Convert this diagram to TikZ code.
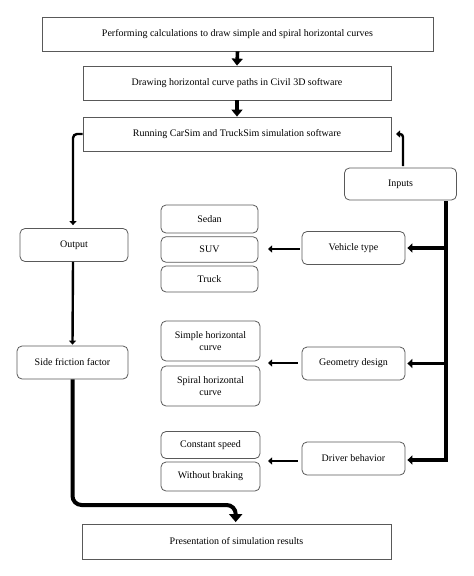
\documentclass[tikz,border=0pt]{standalone}
\usepackage{fontspec}
\setmainfont{Liberation Serif}
\usetikzlibrary{arrows.meta,calc}
\begin{document}
\begin{tikzpicture}[x=1pt,y=-1pt,
  box/.style={draw=black!65,line width=0.8pt,rectangle,inner sep=0pt,align=center,font=\fontsize{10}{11.5}\selectfont},
  rbox/.style={box,rounded corners=5pt},
  bigarrow/.style={line width=3.6pt,-{Triangle[width=11pt,length=7pt]}},
  midarrow/.style={line width=3.2pt,-{Triangle[width=9pt,length=5pt]}},
  thinarrow/.style={line width=2.4pt,-{Triangle[width=7pt,length=4pt]}}]
\useasboundingbox (0,0) rectangle (474,576);
\node[box,minimum width=391pt,minimum height=34pt] (b1) at (237.5,34) {Performing calculations to draw simple and spiral horizontal curves};
\node[box,minimum width=308pt,minimum height=34pt] (b2) at (237,83) {Drawing horizontal curve paths in Civil 3D software};
\node[box,minimum width=308pt,minimum height=34pt] (b3) at (237,134) {Running CarSim and TruckSim simulation software};
\node[rbox,minimum width=112pt,minimum height=32pt] (inputs) at (400.5,184) {Inputs};
\node[rbox,minimum width=108pt,minimum height=33pt] (output) at (74,245) {Output};
\node[rbox,minimum width=111pt,minimum height=33pt] (side) at (72.5,362.5) {Side friction factor};
\node[rbox,minimum width=97pt,minimum height=28pt] (sedan) at (209.5,219) {Sedan};
\node[rbox,minimum width=97pt,minimum height=25.5pt] (suv) at (209.5,249.5) {SUV};
\node[rbox,minimum width=97pt,minimum height=26pt] (truck) at (209.5,279) {Truck};
\node[rbox,minimum width=103pt,minimum height=33pt] (vehicle) at (353.5,248) {Vehicle type};
\node[rbox,minimum width=99pt,minimum height=40pt] (simple) at (210.5,341) {Simple horizontal\\curve};
\node[rbox,minimum width=99pt,minimum height=40pt] (spiral) at (210.5,386) {Spiral horizontal\\curve};
\node[rbox,minimum width=103pt,minimum height=33pt] (geometry) at (353.5,363.5) {Geometry design};
\node[rbox,minimum width=99pt,minimum height=27pt] (constant) at (210.5,445) {Constant speed};
\node[rbox,minimum width=99pt,minimum height=29pt] (without) at (210.5,476.5) {Without braking};
\node[rbox,minimum width=103pt,minimum height=33pt] (driver) at (353.5,458.5) {Driver behavior};
\node[box,minimum width=309pt,minimum height=35pt] (present) at (236.5,541.5) {Presentation of simulation results};
% free ends
\coordinate (vt) at (268,249);
\coordinate (gt) at (268,363);
\coordinate (dt) at (268,461);
\coordinate (bartop) at (446,201);
\coordinate (inbase) at (403,166);
\coordinate (b3in) at (396,134);
% main flow
\draw[bigarrow] (b1.south) -- (b2.north);
\draw[bigarrow] (b2.south) -- (b3.north);
\draw[thinarrow,rounded corners=3pt] (inbase) |- (b3in);
\draw[thinarrow,rounded corners=4pt] (b3.west) -| ($(output.north)+(-1,-3)$);
\draw[thinarrow] ($(output.south)+(-1,0)$) -- ($(side.north)+(0,-1)$);
\draw[line width=4pt,-{Triangle[width=13pt,length=8pt]},rounded corners=9pt] (side.south) |- (235.7,505) -- ($(present.north)+(-0.8,-1.5)$);
% inputs bar
\draw[line width=3.8pt,-{Triangle[width=9pt,length=5pt]}] (bartop) |- ($(driver.east)+(2,1.5)$);
\draw[midarrow] (bartop |- vehicle.east) -- ($(vehicle.east)+(2,0)$);
\draw[midarrow] (bartop |- geometry.east) -- ($(geometry.east)+(2,0)$);
% to options
\draw[thinarrow] ($(vehicle.west)+(-2,1)$) -- (vt);
\draw[thinarrow] ($(geometry.west)+(-4,-0.5)$) -- (gt);
\draw[thinarrow] ($(driver.west)+(-4,2.5)$) -- (dt);
\end{tikzpicture}
\end{document}
